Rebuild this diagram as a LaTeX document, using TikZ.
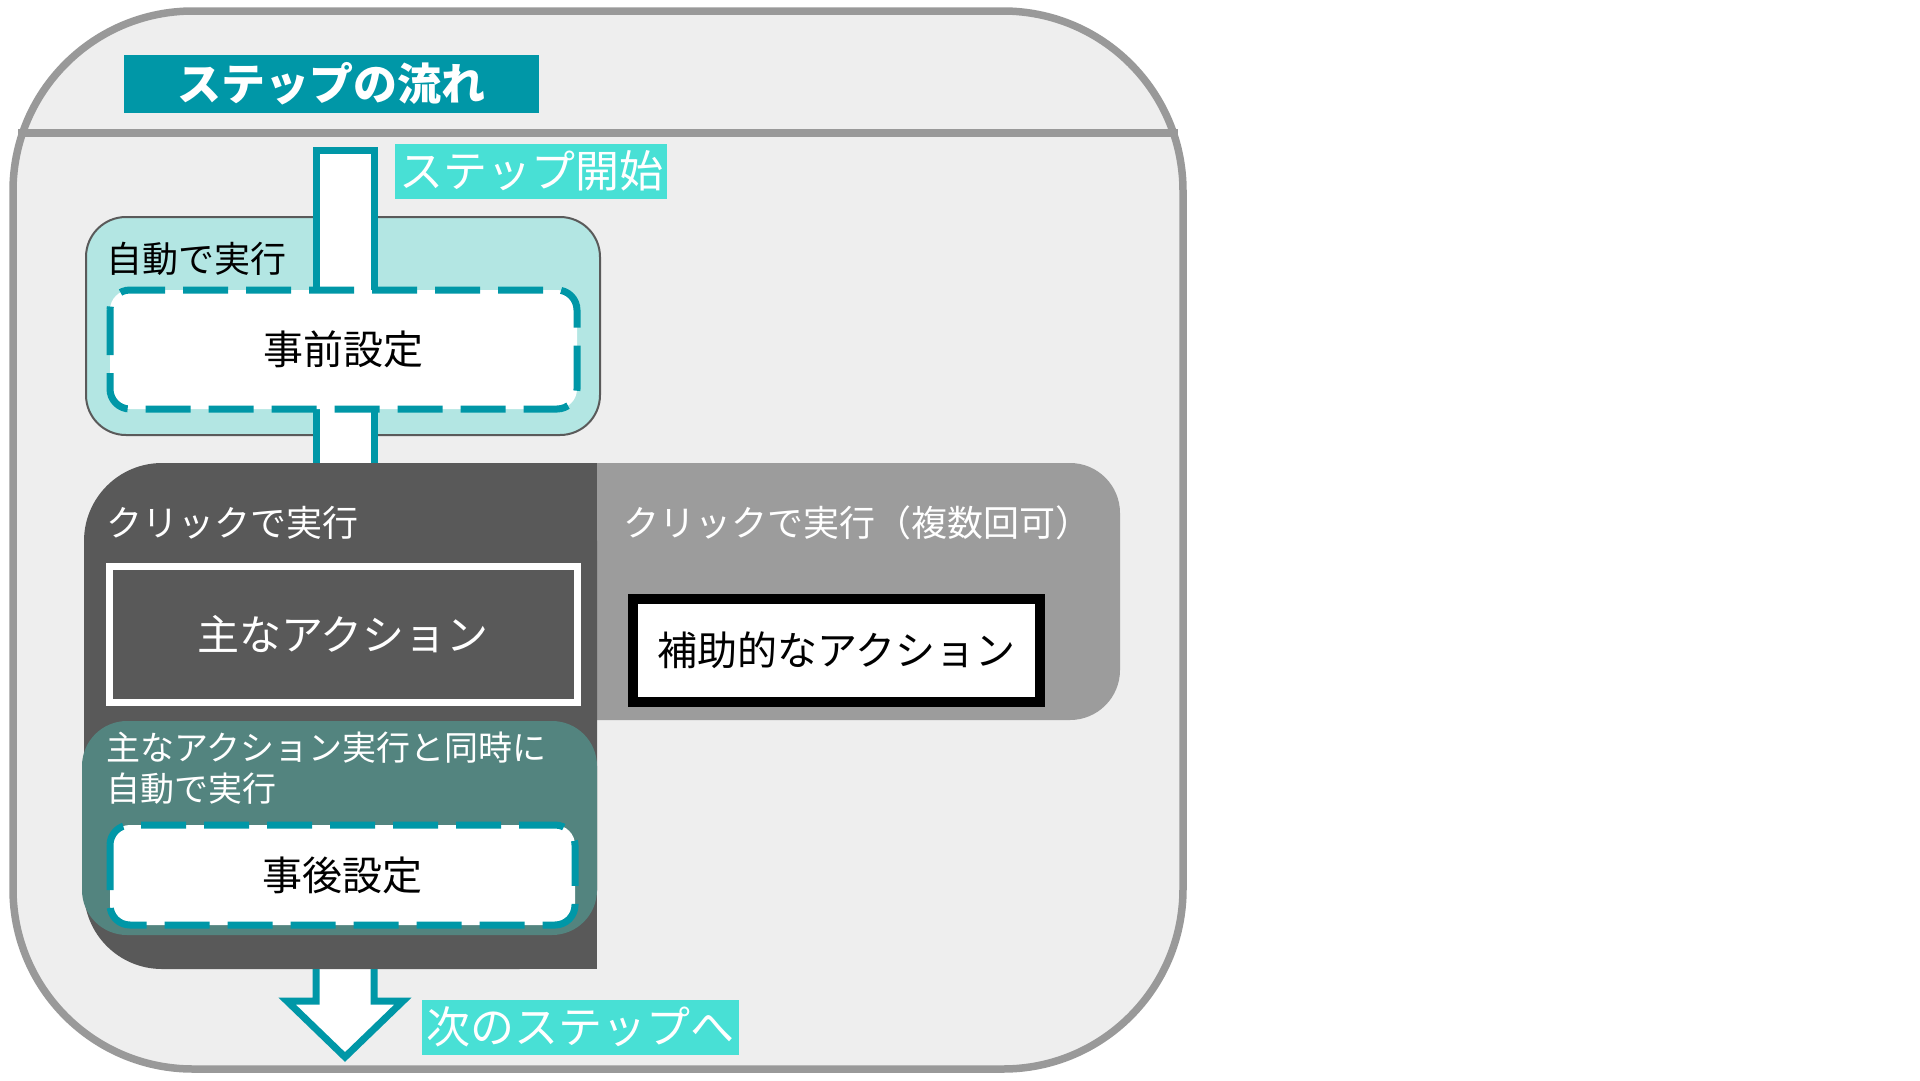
\documentclass[tikz,border=0pt]{standalone}
\usepackage{fontspec}
\setmainfont{Noto Sans CJK JP}
\usepackage{xcolor}
\definecolor{framegray}{HTML}{999999}
\definecolor{framefill}{HTML}{EEEEEE}
\definecolor{flowteal}{HTML}{0097A7}
\definecolor{labelcyan}{HTML}{48E0D5}
\definecolor{autofill}{HTML}{B3E6E3}
\definecolor{autoedge}{HTML}{5A5A5A}
\definecolor{clickdark}{HTML}{595959}
\definecolor{clicklight}{HTML}{9C9C9C}
\definecolor{postfill}{HTML}{53847F}

\begin{document}
\begin{tikzpicture}[x=1pt,y=-1pt,
      dashbox/.style={draw=flowteal, fill=white, line width=7pt, dash pattern=on 45pt off 18pt, rounded corners=20pt},
      tag/.style={fill=labelcyan, text=white, inner sep=0pt, minimum height=55pt, font=\fontsize{44}{44}\selectfont},
      lbl/.style={anchor=west, inner sep=0pt, font=\fontsize{36}{36}\selectfont}]
                                    \useasboundingbox (0,0) rectangle (1920,1080);

                                    % Draw the outer frame
                                    \draw[framegray, fill=framefill, line width=7.5pt, rounded corners=180pt] (13,11) rectangle (1183,1069);
                                    \draw[framegray, line width=7.5pt] (18,133) -- (1178,133);
                                    \node[fill=flowteal, text=white, inner sep=0pt, minimum width=415pt, minimum height=58pt, font=\bfseries\fontsize{44}{44}\selectfont] (title) at (331,84) {ステップの流れ};

                                    % Draw the automatic part
                                    \draw[autoedge, fill=autofill, line width=2pt, rounded corners=40pt] (86,217) rectangle (600,435);
                                    \node[lbl] (auto) at (106,259) {自動で実行};
                                    \filldraw[draw=flowteal, fill=white, line width=7pt] (316,150) rectangle (374,480);
                                    \node[tag, minimum width=272pt] (start) at (531,171) {ステップ開始};
                                    \draw[dashbox] (110,290) rectangle (577,409) node[midway, black, font=\fontsize{40}{40}\selectfont] (pre) {事前設定};

                                    % Draw the next step arrow
                                    \filldraw[draw=flowteal, fill=white, line width=7pt, line join=miter] (316,950) -- (316,1001) -- (287,1001) -- (345,1057) -- (403,1001) -- (374,1001) -- (374,950) -- cycle;
                                    \node[tag, minimum width=317pt] (next) at (580,1027) {次のステップへ};

                                    % Draw the click parts
                                    \fill[clicklight, rounded corners=50pt] (540,463) rectangle (1120,720);
                                    \fill[clickdark, rounded corners=78pt] (84,463) rectangle (597,969);
                                    \fill[clickdark] (500,463) rectangle (597,969);
                                    \node[lbl, white] (click) at (106,523) {クリックで実行};
                                    \node[lbl, white] (clickmore) at (623,523) {クリックで実行（複数回可）};
                                    \draw[white, fill=clickdark, line width=7pt] (109,566) rectangle (577,702) node[midway, font=\fontsize{42}{42}\selectfont] (main) {主なアクション};
                                    \draw[black, fill=white, line width=10pt] (633,599) rectangle (1040,702) node[midway, font=\fontsize{40}{40}\selectfont] (sub) {補助的なアクション};

                                    % Draw the post part
                                    \fill[postfill, rounded corners=45pt] (82,721) rectangle (597,935);
                                    \node[anchor=north west, align=left, inner sep=0pt, white, font=\fontsize{34}{41}\selectfont] (posttext) at (106,732) {主なアクション実行と同時に\\自動で実行};
                                    \draw[dashbox] (110,825) rectangle (575,925) node[midway, black, font=\fontsize{40}{40}\selectfont] (post) {事後設定};
                              \end{tikzpicture}
\end{document}
